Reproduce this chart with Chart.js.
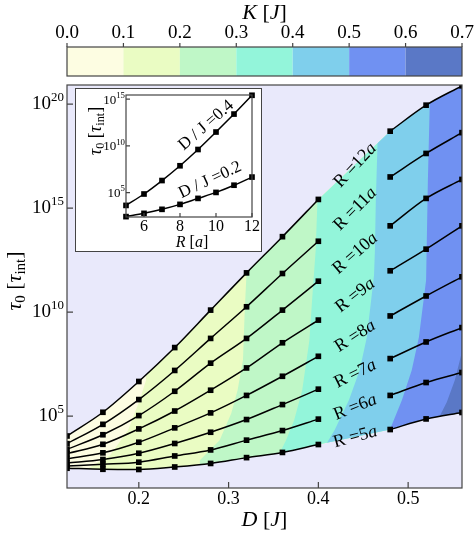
<!DOCTYPE html>
<html>
<head>
<meta charset="utf-8">
<script src="https://cdn.jsdelivr.net/npm/chart.js@4.4.1/dist/chart.umd.min.js"></script>
<style>
  html, body { margin: 0; padding: 0; background: #fff; }
  #wrap { position: relative; width: 474px; height: 534px; overflow: hidden; }
  #mainChart { position: absolute; left: 0; top: 0; }
  #insetBox { position: absolute; left: 75px; top: 88px; width: 187px; height: 164px;
              box-sizing: border-box; border: 1px solid #444; background: #fff; }
  #insetChart { position: absolute; left: 0; top: 0; }
</style>
</head>
<body>
<div id="wrap">
  <canvas id="mainChart" width="474" height="534"></canvas>
  <div id="insetBox"><canvas id="insetChart" width="185" height="162"></canvas></div>
</div>
<script>
// D values along every curve (0.44 is left empty: the labels sit in that gap)
const dValues = [0.12, 0.16, 0.20, 0.24, 0.28, 0.32, 0.36, 0.40, 0.44, 0.48, 0.52, 0.56]
const rValues = [5, 6, 7, 8, 9, 10, 11, 12]

// log10(tau0 / tau_int) for each R
const logTauR5  = [2.50, 2.45, 2.44, 2.56, 2.73, 3.01, 3.26, 3.64, null, 4.36, 4.87, 5.18]
const logTauR6  = [2.61, 2.69, 2.79, 3.09, 3.38, 3.85, 4.31, 4.86, null, 6.00, 6.62, 7.10]
const logTauR7  = [2.75, 2.92, 3.22, 3.69, 4.23, 4.84, 5.56, 6.30, null, 7.77, 8.57, 9.26]
const logTauR8  = [2.96, 3.24, 3.75, 4.44, 5.16, 6.00, 6.92, 7.88, null, 9.82, 10.78, 11.70]
const logTauR9  = [3.20, 3.65, 4.39, 5.25, 6.25, 7.32, 8.53, 9.62, null, 11.99, 13.03, 14.15]
const logTauR10 = [3.41, 4.11, 5.03, 6.20, 7.55, 8.74, 10.10, 11.49, null, 14.15, 15.47, 16.38]
const logTauR11 = [3.68, 4.61, 5.80, 7.20, 8.74, 10.26, 11.86, 13.41, null, 16.50, 17.63, 18.63]
const logTauR12 = [4.05, 5.19, 6.67, 8.30, 10.10, 11.89, 13.63, 15.42, null, 18.70, 19.95, 20.88]
const curves = [logTauR5, logTauR6, logTauR7, logTauR8, logTauR9, logTauR10, logTauR11, logTauR12]

// K contour lines: D position at a given log10(tau), top to bottom
const kLevels = [0.1, 0.2, 0.3, 0.4, 0.5, 0.6]
const edgeK01Log = [6.73, 5.77, 4.33, 3.13, 2.40]
const edgeK01D   = [0.208, 0.201, 0.188, 0.168, 0.140]
const edgeK02Log = [11.88, 10.10, 7.69, 6.25, 5.14, 3.85, 2.88]
const edgeK02D   = [0.320, 0.318, 0.316, 0.310, 0.303, 0.290, 0.268]
const edgeK03Log = [15.38, 12.98, 10.58, 8.65, 6.25, 4.81, 3.85, 2.98]
const edgeK03D   = [0.399, 0.397, 0.393, 0.390, 0.382, 0.373, 0.364, 0.354]
const edgeK04Log = [18.27, 15.38, 12.98, 11.78, 8.80, 7.21, 5.77, 4.33, 3.60]
const edgeK04D   = [0.466, 0.464, 0.463, 0.462, 0.454, 0.446, 0.434, 0.418, 0.408]
const edgeK05Log = [19.86, 16.35, 11.54, 8.80, 7.21, 5.77, 4.38]
const edgeK05D   = [0.524, 0.522, 0.520, 0.512, 0.504, 0.493, 0.480]
const edgeK06Log = [7.93, 6.73, 5.67, 4.90]
const edgeK06D   = [0.559, 0.552, 0.543, 0.534]
const edgesLog = [edgeK01Log, edgeK02Log, edgeK03Log, edgeK04Log, edgeK05Log, edgeK06Log]
const edgesD = [edgeK01D, edgeK02D, edgeK03D, edgeK04D, edgeK05D, edgeK06D]

// ticks
const dTicks = [0.2, 0.3, 0.4, 0.5]
const tauTickExps = [5, 10, 15, 20]
const kTicks = [0.0, 0.1, 0.2, 0.3, 0.4, 0.5, 0.6, 0.7]
const insetRTicks = [6, 8, 10, 12]
const insetTauTickExps = [5, 10, 15]
const insetD = [0.2, 0.4]

const kColors = ['#fdfde2', '#eafcc3', '#bff7c7', '#93f5da', '#7fcfec', '#7091f2', '#5a78c6']
const outside = '#e9e9fb'
const serif = '"Liberation Serif", "DejaVu Serif", serif'

Chart.defaults.font.family = serif

// draws text made of pieces, some italic, some raised or lowered
function drawRich(ctx, parts, x, y, size, align) {
    const items = parts.map(p => {
        const s = (p.sup || p.sub) ? size * 0.68 : size
        const font = (p.it ? 'italic ' : '') + s.toFixed(1) + 'px ' + serif
        ctx.font = font
        const dy = p.sup ? -size * 0.36 : (p.sub ? size * 0.26 : 0)
        return { t: p.t, font: font, w: ctx.measureText(p.t).width, dy: dy }
    })
    const total = items.reduce((a, b) => a + b.w, 0)
    let cx = align === 'right' ? x - total : (align === 'left' ? x : x - total / 2)
    ctx.textAlign = 'left'
    ctx.textBaseline = 'middle'
    items.forEach(it => {
        ctx.font = it.font
        ctx.fillText(it.t, cx, y + it.dy)
        cx += it.w
    })
}

function traceCurve(ctx, elems, reverse, first) {
    const idx = elems.map((p, i) => i).filter(i => !elems[i].skip)
    if (reverse) idx.reverse()
    idx.forEach((i, n) => {
        const p = elems[i]
        if (n === 0) {
            if (first) ctx.moveTo(p.x, p.y)
            else ctx.lineTo(p.x, p.y)
            return
        }
        const q = elems[idx[n - 1]]
        const adjacent = Math.abs(idx[n - 1] - i) === 1
        if (adjacent && p.cp1x !== undefined && q.cp1x !== undefined) {
            if (!reverse) ctx.bezierCurveTo(q.cp2x, q.cp2y, p.cp1x, p.cp1y, p.x, p.y)
            else ctx.bezierCurveTo(q.cp1x, q.cp1y, p.cp2x, p.cp2y, p.x, p.y)
        } else {
            ctx.lineTo(p.x, p.y)
        }
    })
}

const contourPlugin = {
    id: 'contours',
    beforeDatasetsDraw(chart) {
        const ctx = chart.ctx
        const area = chart.chartArea
        const xs = chart.scales.x, ys = chart.scales.y
        ctx.save()
        ctx.fillStyle = outside
        ctx.fillRect(area.left, area.top, area.width, area.height)

        const topMeta = chart.getDatasetMeta(curves.length - 1)
        const botMeta = chart.getDatasetMeta(0)
        topMeta.dataset.updateControlPoints(area, 'x')
        botMeta.dataset.updateControlPoints(area, 'x')
        ctx.beginPath()
        traceCurve(ctx, topMeta.data, false, true)
        traceCurve(ctx, botMeta.data, true, false)
        ctx.closePath()
        ctx.clip()

        ctx.fillStyle = kColors[0]
        ctx.fillRect(area.left, area.top, area.width, area.height)
        kLevels.forEach((lv, k) => {
            const pts = edgesD[k].map((d, i) => [xs.getPixelForValue(d), ys.getPixelForValue(Math.pow(10, edgesLog[k][i]))])
            ctx.beginPath()
            ctx.moveTo(pts[0][0], area.top - 2)
            pts.forEach(p => ctx.lineTo(p[0], p[1]))
            ctx.lineTo(pts[pts.length - 1][0], area.bottom + 2)
            ctx.lineTo(area.right + 2, area.bottom + 2)
            ctx.lineTo(area.right + 2, area.top - 2)
            ctx.closePath()
            ctx.fillStyle = kColors[k + 1]
            ctx.fill()
        })
        ctx.restore()
    },
    afterDatasetsDraw(chart) {
        const ctx = chart.ctx
        const area = chart.chartArea
        const xs = chart.scales.x, ys = chart.scales.y
        ctx.save()
        // frame and inward ticks
        ctx.strokeStyle = '#444'
        ctx.lineWidth = 1.2
        ctx.strokeRect(area.left, area.top, area.width, area.height)
        ctx.beginPath()
        dTicks.forEach(d => {
            const px = xs.getPixelForValue(d)
            ctx.moveTo(px, area.bottom)
            ctx.lineTo(px, area.bottom - 6)
        })
        tauTickExps.forEach(e => {
            const py = ys.getPixelForValue(Math.pow(10, e))
            ctx.moveTo(area.left, py)
            ctx.lineTo(area.left + 6, py)
        })
        ctx.stroke()

        ctx.fillStyle = '#000'
        // tick labels
        dTicks.forEach(d => {
            drawRich(ctx, [{ t: d.toFixed(1) }], xs.getPixelForValue(d), area.bottom + 11, 18, 'center')
        })
        tauTickExps.forEach(e => {
            drawRich(ctx, [{ t: '10' }, { t: String(e), sup: true }], area.left - 3, ys.getPixelForValue(Math.pow(10, e)), 19, 'right')
        })
        // axis titles
        drawRich(ctx, [{ t: 'D', it: true }, { t: ' [' }, { t: 'J', it: true }, { t: ']' }], (area.left + area.right) / 2, 520, 22, 'center')
        ctx.save()
        ctx.translate(15, 281)
        ctx.rotate(-Math.PI / 2)
        drawRich(ctx, [{ t: 'τ', it: true }, { t: '0', sub: true }, { t: ' [' }, { t: 'τ', it: true }, { t: 'int', sub: true }, { t: ']' }], 0, 0, 22, 'center')
        ctx.restore()

        // curve labels in the gap at D = 0.44
        const ia = dValues.indexOf(0.40), ib = dValues.indexOf(0.48)
        rValues.forEach((r, i) => {
            const pts = chart.getDatasetMeta(i).data
            const a = pts[ia], b = pts[ib]
            const ang = Math.atan2(b.y - a.y, b.x - a.x) - 0.06
            ctx.save()
            ctx.translate((a.x + b.x) / 2 + 1, (a.y + b.y) / 2)
            ctx.rotate(ang)
            drawRich(ctx, [{ t: 'R =' + r }, { t: 'a', it: true }], 0, 0, 18, 'center')
            ctx.restore()
        })

        // colour bar for K
        const ks = chart.scales.k
        const y0 = 47, y1 = 76
        for (let i = 0; i < kTicks.length - 1; i++) {
            const xa = ks.getPixelForValue(kTicks[i]), xb = ks.getPixelForValue(kTicks[i + 1])
            ctx.fillStyle = kColors[i]
            ctx.fillRect(xa, y0, xb - xa, y1 - y0)
        }
        ctx.strokeStyle = '#444'
        ctx.lineWidth = 1.2
        ctx.strokeRect(ks.getPixelForValue(kTicks[0]), y0, ks.getPixelForValue(kTicks[kTicks.length - 1]) - ks.getPixelForValue(kTicks[0]), y1 - y0)
        ctx.beginPath()
        kTicks.forEach(k => {
            const px = ks.getPixelForValue(k)
            ctx.moveTo(px, y0)
            ctx.lineTo(px, y0 - 4)
        })
        ctx.stroke()
        ctx.fillStyle = '#000'
        kTicks.forEach(k => drawRich(ctx, [{ t: k.toFixed(1) }], ks.getPixelForValue(k), 33, 19, 'center'))
        drawRich(ctx, [{ t: 'K', it: true }, { t: ' [' }, { t: 'J', it: true }, { t: ']' }], (area.left + area.right) / 2, 13, 22, 'center')
        ctx.restore()
    }
}

const lineStyle = {
    borderColor: '#000',
    borderWidth: 1.5,
    pointStyle: 'rect',
    pointRadius: 4,
    pointBackgroundColor: '#000',
    pointBorderWidth: 0,
    cubicInterpolationMode: 'monotone',
    spanGaps: false,
    fill: false,
    xAxisID: 'x',
    yAxisID: 'y'
}

const mainDatasets = curves.map((c, i) => Object.assign({
    label: 'R=' + rValues[i] + 'a',
    data: dValues.map((d, j) => ({ x: d, y: c[j] === null ? null : Math.pow(10, c[j]) })),
    clip: 0
}, lineStyle))

new Chart(document.getElementById('mainChart'), {
    type: 'line',
    data: { datasets: mainDatasets },
    options: {
        responsive: false,
        animation: false,
        events: [],
        layout: { padding: { left: 67, right: 12, top: 85, bottom: 46 } },
        scales: {
            x: { type: 'linear', min: 0.12, max: 0.56, display: false },
            y: { type: 'logarithmic', min: Math.pow(10, 1.55), max: Math.pow(10, 20.92), display: false },
            k: { type: 'linear', axis: 'x', position: 'top', min: 0, max: 0.7, display: false }
        },
        plugins: { legend: { display: false }, tooltip: { enabled: false } }
    },
    plugins: [contourPlugin]
})

// inset: tau0 against R for two D values, taken from the same curves
const insetDatasets = insetD.map(d => {
    const j = dValues.indexOf(d)
    return Object.assign({
        label: 'D/J=' + d,
        data: rValues.map((r, i) => ({ x: r, y: Math.pow(10, curves[i][j]) })),
        clip: false
    }, lineStyle)
})

const insetPlugin = {
    id: 'insetFrame',
    afterDatasetsDraw(chart) {
        const ctx = chart.ctx
        const area = chart.chartArea
        const xs = chart.scales.x, ys = chart.scales.y
        ctx.save()
        ctx.strokeStyle = '#444'
        ctx.lineWidth = 1.2
        ctx.strokeRect(area.left, area.top, area.width, area.height)
        ctx.beginPath()
        insetRTicks.forEach(r => {
            const px = xs.getPixelForValue(r)
            ctx.moveTo(px, area.bottom)
            ctx.lineTo(px, area.bottom - 4)
        })
        insetTauTickExps.forEach(e => {
            const py = ys.getPixelForValue(Math.pow(10, e))
            ctx.moveTo(area.left, py)
            ctx.lineTo(area.left + 4, py)
        })
        ctx.stroke()
        ctx.fillStyle = '#000'
        insetRTicks.forEach(r => drawRich(ctx, [{ t: String(r) }], xs.getPixelForValue(r), area.bottom + 10, 16, 'center'))
        insetTauTickExps.forEach(e => {
            drawRich(ctx, [{ t: '10' }, { t: String(e), sup: true }], area.left - 1, ys.getPixelForValue(Math.pow(10, e)) + 1, 13, 'right')
        })
        drawRich(ctx, [{ t: 'R', it: true }, { t: ' [' }, { t: 'a', it: true }, { t: ']' }], (area.left + area.right) / 2 + 3, 154, 16, 'center')
        ctx.save()
        ctx.translate(20, 42)
        ctx.rotate(-Math.PI / 2)
        drawRich(ctx, [{ t: 'τ', it: true }, { t: '0', sub: true }, { t: ' [' }, { t: 'τ', it: true }, { t: 'int', sub: true }, { t: ']' }], 0, 0, 18, 'center')
        ctx.restore()

        // curve labels
        const labels = [
            { text: 'D / J =0.4', r: 9.45, e: 12.2, ang: -41 },
            { text: 'D / J =0.2', r: 9.67, e: 6.35, ang: -25 }
        ]
        labels.forEach(l => {
            ctx.save()
            ctx.translate(xs.getPixelForValue(l.r), ys.getPixelForValue(Math.pow(10, l.e)))
            ctx.rotate(l.ang * Math.PI / 180)
            drawRich(ctx, [{ t: l.text }], 0, 0, 17, 'center')
            ctx.restore()
        })
        ctx.restore()
    }
}

new Chart(document.getElementById('insetChart'), {
    type: 'line',
    data: { datasets: insetDatasets },
    options: {
        responsive: false,
        animation: false,
        events: [],
        layout: { padding: { left: 50, right: 9, top: 6, bottom: 34 } },
        scales: {
            x: { type: 'linear', min: 5, max: 12, display: false },
            y: { type: 'logarithmic', min: Math.pow(10, 2.4), max: Math.pow(10, 15.45), display: false }
        },
        plugins: { legend: { display: false }, tooltip: { enabled: false } }
    },
    plugins: [insetPlugin]
})
</script>
</body>
</html>
